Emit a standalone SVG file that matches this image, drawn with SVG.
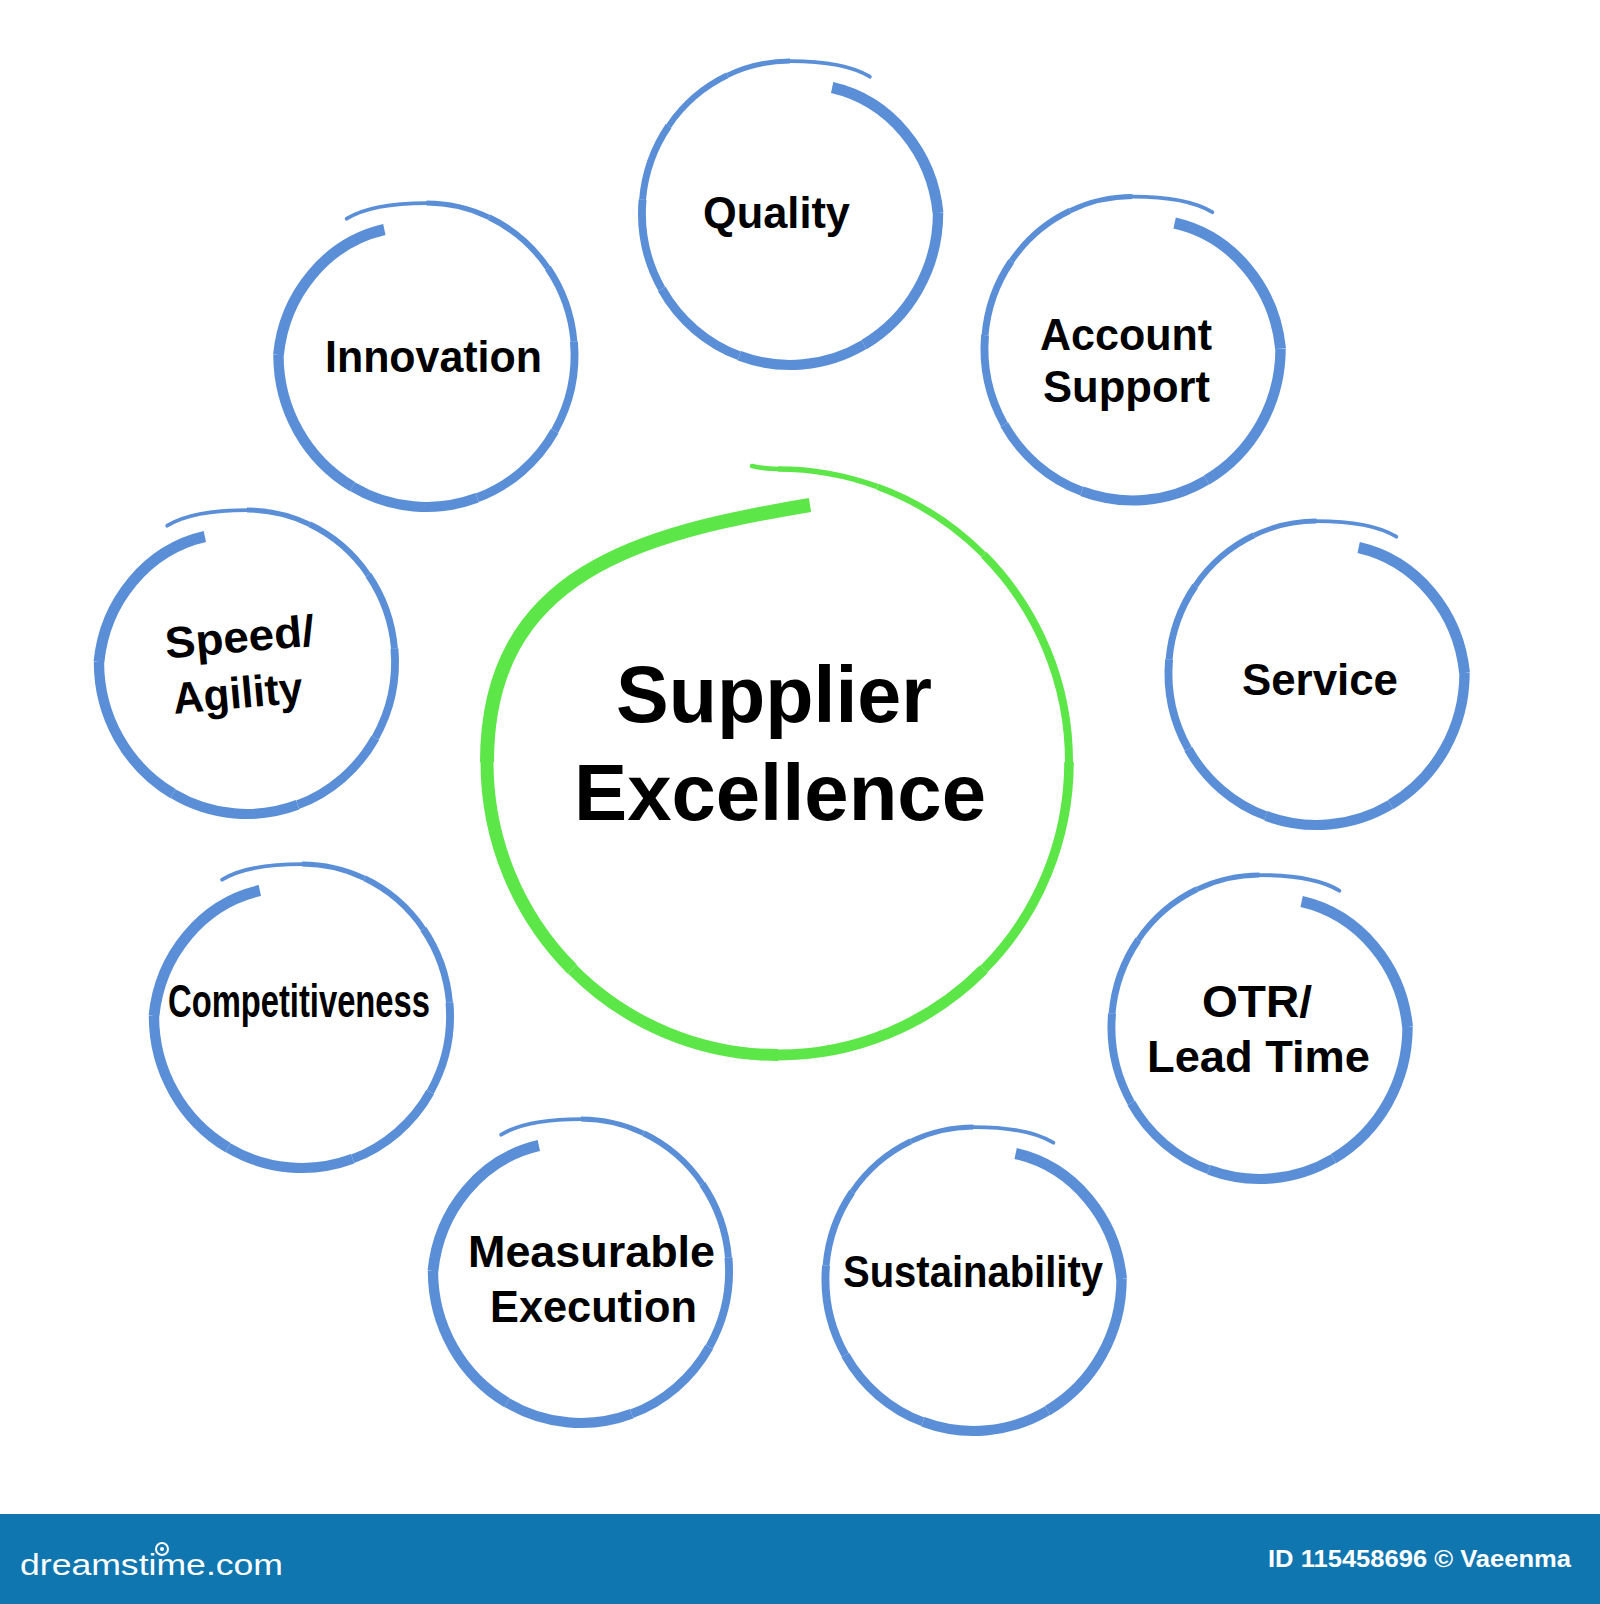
<svg xmlns="http://www.w3.org/2000/svg" xmlns:xlink="http://www.w3.org/1999/xlink" width="1600" height="1604" viewBox="0 0 1600 1604">
<style>
.ring path{fill:none;stroke:#5a8fd8;stroke-linecap:butt}
.green path{fill:none;stroke:#5de648;stroke-linecap:butt}
.ring path.tail,.green path.tail{stroke-linecap:round}
.lbl{font-family:"Liberation Sans",Arial,sans-serif;font-weight:bold;font-size:44px;fill:#000;text-anchor:middle}
.big{font-size:80px}
.foot{font-family:"Liberation Sans",Arial,sans-serif;fill:#fff}
</style>
<defs>
<g id="ring" class="ring">
<path d="M42.7,-123.9 C101.3,-110.9 144,-59.7 150,0" stroke-width="11"/>
<path d="M150,0 A150,150 0 0 1 75,129.9" stroke-width="10.5"/>
<path d="M75,129.9 A150,150 0 0 1 -51.3,141" stroke-width="10"/>
<path d="M-51.3,141 A150,150 0 0 1 -129.9,75" stroke-width="9"/>
<path d="M-129.9,75 A150,150 0 0 1 -149.4,-13.1" stroke-width="8"/>
<path d="M-149.4,-13.1 A150,150 0 0 1 -122.9,-86" stroke-width="7"/>
<path d="M-122.9,-86 A150,150 0 0 1 -63.4,-135.9" stroke-width="6"/>
<path d="M-63.4,-135.9 A150,150 0 0 1 0,-150" stroke-width="5"/>
<path class="tail" d="M0,-150 Q55.3,-150 80.9,-134.6" stroke-width="3.8"/>
</g>
</defs>
<rect width="1600" height="1604" fill="#fff"/>
<g id="connectors"/>
<g id="center" class="green">
<path d="M810,505 C642,533 487,572 487,762" stroke-width="14"/>
<path d="M487,762 A291,293 0 0 0 572.2,969.2" stroke-width="13"/>
<path d="M572.2,969.2 A291,293 0 0 0 778,1055" stroke-width="12"/>
<path d="M778,1055 A291,293 0 0 0 983.8,969.2" stroke-width="11"/>
<path d="M983.8,969.2 A291,293 0 0 0 1069,762" stroke-width="9.5"/>
<path d="M1069,762 A291,293 0 0 0 983.8,554.8" stroke-width="8"/>
<path d="M983.8,554.8 A291,293 0 0 0 877.5,486.7" stroke-width="6.5"/>
<path d="M877.5,486.7 A291,293 0 0 0 778,469" stroke-width="5.5"/>
<path class="tail" d="M778,469 Q765,469 752,466" stroke-width="4.5"/>
<text class="lbl big" x="774" y="722" textLength="316" lengthAdjust="spacingAndGlyphs">Supplier</text>
<text class="lbl big" x="780" y="820" textLength="412" lengthAdjust="spacingAndGlyphs">Excellence</text>
</g>
<g id="quality">
<use href="#ring" transform="translate(790,213) scale(0.987,1.013)"/>
<text class="lbl" x="776.5" y="228" textLength="147" lengthAdjust="spacingAndGlyphs">Quality</text>
</g>
<g id="account-support">
<use href="#ring" transform="translate(1132.5,348.5) scale(0.987,1.013)"/>
<text class="lbl" x="1126" y="350" textLength="172" lengthAdjust="spacingAndGlyphs">Account</text>
<text class="lbl" x="1126.5" y="402" textLength="167" lengthAdjust="spacingAndGlyphs">Support</text>
</g>
<g id="service">
<use href="#ring" transform="translate(1316.5,673) scale(0.987,1.013)"/>
<text class="lbl" x="1320" y="695" textLength="156" lengthAdjust="spacingAndGlyphs">Service</text>
</g>
<g id="otr-lead-time">
<use href="#ring" transform="translate(1259.5,1027) scale(0.987,1.013)"/>
<text class="lbl" x="1257" y="1017" textLength="110" lengthAdjust="spacingAndGlyphs">OTR/</text>
<text class="lbl" x="1258.5" y="1072" textLength="223" lengthAdjust="spacingAndGlyphs">Lead Time</text>
</g>
<g id="sustainability">
<use href="#ring" transform="translate(973.5,1279) scale(0.987,1.013)"/>
<text class="lbl" x="973" y="1287" textLength="260" lengthAdjust="spacingAndGlyphs">Sustainability</text>
</g>
<g id="measurable-execution">
<use href="#ring" transform="translate(581,1271) scale(-0.987,1.013)"/>
<text class="lbl" x="591.5" y="1267" textLength="247" lengthAdjust="spacingAndGlyphs">Measurable</text>
<text class="lbl" x="593.5" y="1322" textLength="207" lengthAdjust="spacingAndGlyphs">Execution</text>
</g>
<g id="competitiveness">
<use href="#ring" transform="translate(302,1016) scale(-0.987,1.013)"/>
<text class="lbl" x="299" y="1017" style="font-size:46px" textLength="262" lengthAdjust="spacingAndGlyphs">Competitiveness</text>
</g>
<g id="speed-agility">
<use href="#ring" transform="translate(247,662) scale(-0.987,1.013)"/>
<text class="lbl" x="241" y="652" transform="rotate(-5 241 652)" textLength="150" lengthAdjust="spacingAndGlyphs">Speed/</text>
<text class="lbl" x="239" y="708" transform="rotate(-5 239 708)" textLength="130" lengthAdjust="spacingAndGlyphs">Agility</text>
</g>
<g id="innovation">
<use href="#ring" transform="translate(426.5,355) scale(-0.987,1.013)"/>
<text class="lbl" x="433.5" y="372" textLength="217" lengthAdjust="spacingAndGlyphs">Innovation</text>
</g>
<g id="footer">
<rect x="0" y="1514" width="1600" height="90" fill="#1076b0"/>
<text class="foot" x="20" y="1575" style="font-size:30px" textLength="263" lengthAdjust="spacingAndGlyphs">dreamstime.com</text>
<circle cx="162" cy="1549" r="6" fill="none" stroke="#fff" stroke-width="2"/>
<circle cx="162" cy="1549" r="2" fill="#fff"/>
<text class="foot" x="1268" y="1567" style="font-size:24px;font-weight:bold" textLength="303" lengthAdjust="spacingAndGlyphs">ID 115458696 © Vaeenma</text>
</g>
</svg>
